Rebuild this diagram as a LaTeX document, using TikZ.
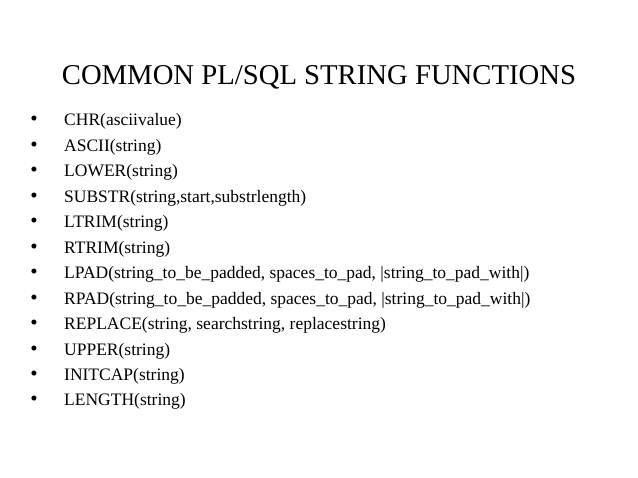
\documentclass[tikz,border=0pt]{standalone}
\usepackage{fontspec}
\setmainfont{Liberation Serif}
\begin{document}
\begin{tikzpicture}[x=1pt,y=1pt,
  item/.style={anchor=base west,inner sep=0pt,font=\fontsize{17.5}{20}\selectfont},
  dot/.style={anchor=base,inner sep=0pt,font=\fontsize{21}{22}\selectfont}]
\useasboundingbox[fill=white] (0,0) rectangle (638,478);
\node[anchor=base,inner sep=0pt,font=\fontsize{28.7}{32}\selectfont] (title) at (319,393) {COMMON PL/SQL STRING FUNCTIONS};
\foreach \t [count=\i from 0] in {CHR(asciivalue),ASCII(string),LOWER(string),SUBSTR(string{,}start{,}substrlength),LTRIM(string),RTRIM(string),{LPAD(string\_to\_be\_padded, spaces\_to\_pad, |string\_to\_pad\_with|)},{RPAD(string\_to\_be\_padded, spaces\_to\_pad, |string\_to\_pad\_with|)},{REPLACE(string, searchstring, replacestring)},UPPER(string),INITCAP(string),LENGTH(string)}{
  \node[dot] (b\i) at (34,{352-25.45*\i}) {•};
  \node[item] (t\i) at (64,{352-25.45*\i}) {\t};
}
\end{tikzpicture}
\end{document}
